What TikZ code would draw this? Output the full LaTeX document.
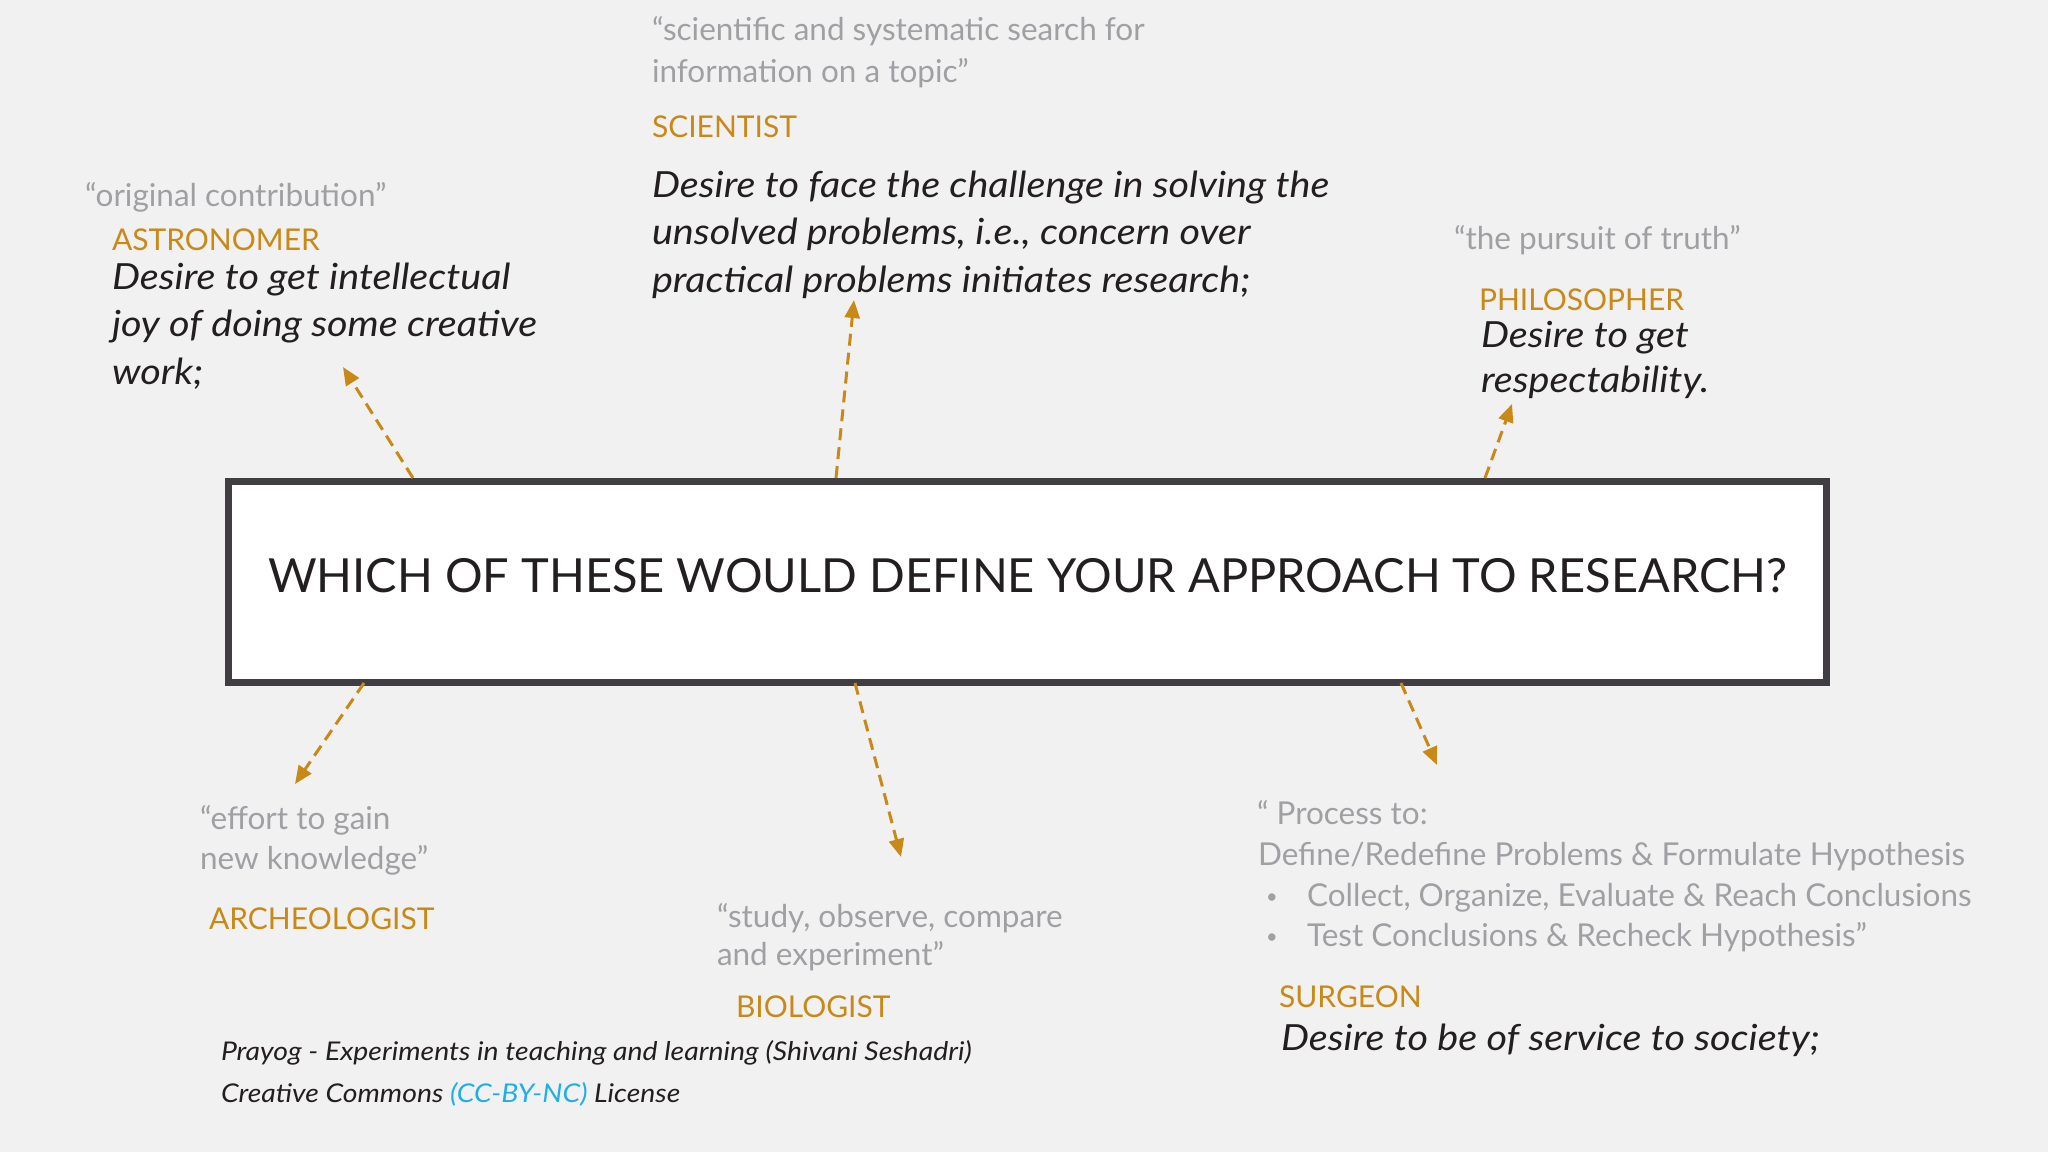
\documentclass[tikz,border=0pt]{standalone}
\usepackage{fontspec}
\setmainfont{Lato}
\newfontfamily\descfont[FakeStretch=1.1]{Lato}
\usetikzlibrary{arrows.meta}
\definecolor{bgc}{RGB}{242,241,242}
\definecolor{orng}{RGB}{201,137,22}
\definecolor{qgray}{RGB}{160,160,164}
\definecolor{dtext}{RGB}{35,31,32}
\definecolor{boxc}{RGB}{64,62,66}
\definecolor{ccblue}{RGB}{30,175,230}
\tikzset{
  lbl/.style={anchor=base west, inner sep=0pt, outer sep=0pt},
  quote/.style={lbl, text=qgray, font=\fontsize{31.5}{36}\selectfont},
  bul/.style={lbl, text=qgray, font=\fontsize{20}{24}\selectfont},
  role/.style={lbl, text=orng, font=\fontsize{30}{34}\selectfont},
  desc/.style={lbl, text=dtext, font=\descfont\fontsize{36}{40}\selectfont\itshape},
  foot/.style={lbl, text=dtext, font=\descfont\fontsize{25.8}{31}\selectfont\itshape},
  conn/.style={draw=orng, line width=3pt, dash pattern=on 12pt off 7pt,
    -{Triangle[length=18pt,width=15pt]}},
}
\begin{document}
\begin{tikzpicture}[x=1pt,y=-1pt]
\fill[bgc] (0,0) rectangle (2048,1152);
\useasboundingbox (0,0) rectangle (2048,1152);
% central box
\node[draw=boxc, line width=7pt, fill=white, minimum width=1598pt, minimum height=201pt,
  inner sep=0pt, anchor=north west] (box) at (225,478) {};
\node[lbl, text=dtext, font=\fontsize{47}{52}\selectfont] (title) at (268,592)
  {WHICH OF THESE WOULD DEFINE YOUR APPROACH TO RESEARCH?};
% astronomer
\node[quote] (aq) at (85,206) {“original contribution”};
\node[role] (ar) at (112,250) {ASTRONOMER};
\node[desc] (ad1) at (112,289) {Desire to get intellectual};
\node[desc] (ad2) at (112,336) {joy of doing some creative};
\node[desc] (ad3) at (112,384) {work;};
% scientist
\node[quote] (sq1) at (652,40) {“scientific and systematic search for};
\node[quote] (sq2) at (652,82) {information on a topic”};
\node[role] (sr) at (652,137) {SCIENTIST};
\node[desc] (sd1) at (652,197) {Desire to face the challenge in solving the};
\node[desc] (sd2) at (652,244) {unsolved problems, i.e., concern over};
\node[desc] (sd3) at (652,292) {practical problems initiates research;};
% philosopher
\node[quote] (pq) at (1454,249) {“the pursuit of truth”};
\node[role, text depth=0pt] (pr) at (1479,310) {PHILOSOPHER};
\node[desc, text height=26pt] (pd1) at (1481,347) {Desire to get};
\node[desc] (pd2) at (1481,392) {respectability.};
% archeologist
\node[quote] (gq1) at (200,829) {“effort to gain};
\node[quote] (gq2) at (200,869) {new knowledge”};
\node[role] (gr) at (209,929) {ARCHEOLOGIST};
% biologist
\node[quote] (bq1) at (717,927) {“study, observe, compare};
\node[quote] (bq2) at (717,965) {and experiment”};
\node[role] (br) at (736,1017) {BIOLOGIST};
% surgeon
\node[quote] (uq1) at (1257,824) {“ Process to:};
\node[quote] (uq2) at (1258,865) {Define/Redefine Problems \& Formulate Hypothesis};
\node[bul] (ub1) at (1266,903) {•};
\node[quote] (uq3) at (1307,906) {Collect, Organize, Evaluate \& Reach Conclusions};
\node[bul] (ub2) at (1266,943) {•};
\node[quote] (uq4) at (1307,946) {Test Conclusions \& Recheck Hypothesis”};
\node[role] (ur) at (1279,1007) {SURGEON};
\node[desc] (ud) at (1281,1050) {Desire to be of service to society;};
% footer
\node[foot] (f1) at (221,1060) {Prayog - Experiments in teaching and learning (Shivani Seshadri)};
\node[foot] (f2) at (221,1102) {Creative Commons \textcolor{ccblue}{(CC-BY-NC)} License};
% connector end points
\coordinate (a0) at (413,478); \coordinate (a1) at (343,367);
\coordinate (s0) at (836,478); \coordinate (s1) at (854,300);
\coordinate (p0) at (1485,478); \coordinate (p1) at (1512,404);
\coordinate (g0) at (364,683); \coordinate (g1) at (295,784);
\coordinate (b0) at (855,683); \coordinate (b1) at (901,857);
\coordinate (u0) at (1401,683); \coordinate (u1) at (1437,765);
\draw[conn] (a0) -- (a1);
\draw[conn] (s0) -- (s1);
\draw[conn] (p0) -- (p1);
\draw[conn] (g0) -- (g1);
\draw[conn] (b0) -- (b1);
\draw[conn] (u0) -- (u1);
\end{tikzpicture}
\end{document}
